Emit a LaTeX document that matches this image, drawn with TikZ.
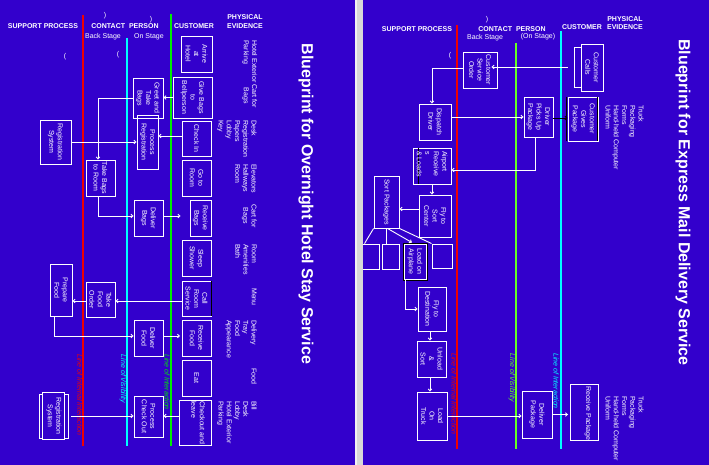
\documentclass[tikz,border=0pt]{standalone}
\usepackage{fontspec}
\setmainfont{Liberation Sans}
\usetikzlibrary{fit,arrows.meta}
\definecolor{bg}{HTML}{3300CC}
\definecolor{sep}{HTML}{D8D8D8}
\definecolor{lred}{HTML}{F00000}
\definecolor{lgreen}{HTML}{00EE00}
\definecolor{rgreen}{HTML}{66FF22}
\definecolor{lcyan}{HTML}{00FFFF}
\tikzset{
  box/.style={draw=white, line width=0.9pt, inner sep=0pt},
  txt/.style={rotate=-90, align=center, inner sep=0pt, text=white, font=\fontsize{7}{8.5}\selectfont},
  pe/.style={rotate=-90, anchor=north west, align=left, inner sep=0pt, text=white, font=\fontsize{7}{8.3}\selectfont},
  hd/.style={inner sep=0pt, text=white, font=\bfseries\fontsize{7}{8}\selectfont},
  sub/.style={inner sep=0pt, text=white, font=\fontsize{7}{8}\selectfont},
  lbl/.style={rotate=-90, inner sep=0pt, font=\itshape\fontsize{7}{8}\selectfont},
  ttl/.style={rotate=-90, inner sep=0pt, text=white, font=\bfseries\fontsize{16}{18}\selectfont},
  arr/.style={draw=white, line width=0.9pt, -{Straight Barb[length=2pt,width=3.5pt]}},
  ln/.style={draw=white, line width=0.9pt},
  lane/.style={line width=1.4pt},
}
\newcommand\bx[4]{\node[box, fit={#2 #3}] (#1) {};\node[txt] (#1t) at (#1.center) {#4};}
\begin{document}
\begin{tikzpicture}[x=1pt,y=-1pt]
\useasboundingbox (0,0) rectangle (709,465);
\fill[bg] (0,0) rectangle (709,465);

% ================= LEFT PANEL =================
\node[hd] (lh1) at (43,26) {SUPPORT PROCESS};
\node[hd] (lh2) at (125,26) {CONTACT~~PERSON};
\node[hd] (lh3) at (194,26) {CUSTOMER};
\node[hd, align=center, font=\bfseries\fontsize{7}{8.5}\selectfont] (lh4) at (245,21.5) {PHYSICAL\\EVIDENCE};
\node[sub] (lh5) at (103,37) {Back Stage};
\node[sub] (lh6) at (149,37) {On Stage};
\node[sub] (lp1) at (105,16) {)};
\node[sub] (lp2) at (151,20) {)};
\node[sub] (lp3) at (65,57) {(};
\node[sub] (lp4) at (118,55) {(};

\draw[lane, lred] (83,15) -- (83,446);
\draw[lane, lcyan] (127,38) -- (127,446);
\draw[lane, lgreen] (171,14) -- (171,446);
\node[lbl, text=lred] (ll1) at (80,395) {Line of Internal Interaction};
\node[lbl, text=lcyan] (ll2) at (123,379) {Line of Visibility};
\node[lbl, text=lgreen] (ll3) at (167,382) {Line of Interaction};

\node[ttl] (ltitle) at (306,204) {Blueprint for Overnight Hotel Stay Service};

% customer
\bx{arrive}{(181,36)}{(212,72)}{Arrive\\at\\Hotel}
\bx{give}{(173,77)}{(212,118)}{Give Bags\\to\\Bellperson}
\bx{checkin}{(182,121)}{(211,156)}{Check In}
\bx{goroom}{(182,160)}{(211,196)}{Go to\\Room}
\bx{recbags}{(190,200)}{(211,236)}{Receive\\Bags}
\bx{sleep}{(182,240)}{(211,276)}{Sleep\\Shower}
\bx{callrs}{(182,281)}{(211,316)}{Call\\Room\\Service}
\draw[black, line width=0.9pt] (callrs.north east) -- (callrs.south east);
\bx{recfood}{(182,320)}{(211,356)}{Receive\\Food}
\bx{eat}{(182,360)}{(211,396)}{Eat}
\node[box, fit={(179,400) (211,445)}] (leave) {};
\node[txt, align=left, anchor=west] (leavet) at (198,401) {Checkout and\\leave};

% contact / support
\bx{greet}{(133,78)}{(163,118)}{Greet and\\Take\\Bags}
\bx{procreg}{(137,115)}{(158,169)}{Process\\Registration}
\bx{regsys}{(40,120)}{(71,164)}{Registration\\System}
\bx{takeroom}{(86,160)}{(115,196)}{Take Bags\\to Room}
\bx{delbags}{(134,200)}{(163,236)}{Deliver\\Bags}
\bx{prepfood}{(50,264)}{(72,316)}{Prepare\\Food}
\bx{takefood}{(86,282)}{(115,317)}{Take\\Food\\Order}
\bx{delfood}{(134,320)}{(163,356)}{Deliver\\Food}
\node[box, fit={(39,394) (68,438)}] (regsysb) {};
\node[box, fill=bg, fit={(42,392) (64,439)}] (regsys2) {};
\node[txt] (regsys2t) at (54,416) {Registration\\System};
\bx{chkout}{(134,396)}{(163,437)}{Process\\Check Out}

% physical evidence
\node[pe] (pe1) at (257.5,40) {Hotel Exterior\\Parking};
\node[pe, align=center] (pe2) at (257.5,84) {Cart for\\Bags};
\node[pe] (pe3) at (257,120) {Desk\\Registration\\Papers\\Lobby\\Key};
\node[pe] (pe4) at (257,164) {Elevators\\Hallways\\Room};
\node[pe, align=center] (pe5) at (257,204) {Cart for\\Bags};
\node[pe] (pe6) at (257,244) {Room\\Amenities\\Bath};
\node[pe] (pe7) at (257,288) {Menu};
\node[pe] (pe8) at (257,320) {Delivery\\Tray\\Food\\Appearance};
\node[pe] (pe9) at (257,368) {Food};
\node[pe] (pe10) at (257,401) {Bill\\Desk\\Lobby\\Hotel Exterior\\Parking};

% connectors left
\draw[arr] (give.west) -- (give.west -| greet.east);
\draw[arr] (greet.west) -| ([xshift=-2.5pt]takeroom.north);
\draw[arr] ([yshift=2.5pt]checkin.west) -- ([yshift=2.5pt]checkin.west -| procreg.east);
\draw[arr] (regsys.east) -- (regsys.east -| procreg.west);
\draw[arr] ([xshift=-2.5pt]takeroom.south) |- ([yshift=2pt]delbags.west);
\draw[arr] ([yshift=2pt]delbags.east) -- ([yshift=2pt,xshift=-9pt]recbags.west);
\draw[arr] ([yshift=-2.5pt]callrs.west) -- ([yshift=-2.5pt]callrs.west -| takefood.east);
\draw[arr] ([yshift=-1.5pt]takefood.west) -- ([yshift=-1.5pt]takefood.west -| prepfood.east);
\draw[arr] ([xshift=-7pt]prepfood.south) |- ([yshift=2pt]delfood.west);
\draw[arr] ([yshift=2pt]delfood.east) -- ([yshift=2pt,xshift=-1.5pt]recfood.west);
\draw[arr] ([xshift=3pt]regsysb.east) -- (regsysb.east -| chkout.west);
\draw[arr] ([yshift=6.5pt]leave.west) -- ([yshift=6.5pt]leave.west -| chkout.east);

% ================= RIGHT PANEL =================
\node[hd] (rh1) at (417,29) {SUPPORT PROCESS};
\node[hd] (rh2) at (512,29) {CONTACT~~PERSON};
\node[hd] (rh3) at (582,27) {CUSTOMER};
\node[hd, align=center, font=\bfseries\fontsize{7}{8.5}\selectfont] (rh4) at (625,23) {PHYSICAL\\EVIDENCE};
\node[sub] (rh5) at (485,38) {Back Stage};
\node[sub] (rh6) at (538,37) {(On Stage)};
\node[sub] (rp1) at (487,20) {)};
\node[sub] (rp2) at (450,56) {(};

\draw[lane, lred] (457,25) -- (457,449);
\draw[lane, rgreen] (516,43) -- (516,449);
\draw[lane, lcyan] (561,31) -- (561,449);
\node[lbl, text=lred] (rl1) at (454,394) {Line of Internal Interaction};
\node[lbl, text=rgreen] (rl2) at (512,378) {Line of Visibility};
\node[lbl, text=lcyan] (rl3) at (556,381) {Line of Interaction};

\node[ttl] (rtitle) at (683,202.5) {Blueprint for Express Mail Delivery Service};

\node[box, fit={(574,47) (600,87)}] (callsb) {};
\node[box, fill=bg, fit={(581,44) (603,91)}] (calls) {};
\node[txt] (callst) at (calls.center) {Customer\\Calls};
\bx{cso}{(463,52)}{(497,88)}{Customer\\Service\\Order}
\bx{dispatch}{(419,104)}{(451,140)}{Dispatch\\Driver}
\bx{driver}{(524,97)}{(553,137)}{Driver\\Picks Up\\Package}
\bx{cgives}{(568,97)}{(598,141)}{Customer\\Gives\\Package}
\draw[black, line width=0.9pt] ([xshift=-1pt]cgives.north west) -- ([xshift=-1pt]cgives.south west);
\draw[black, line width=0.9pt] ([xshift=-1pt]cgives.north east) -- ([xshift=-1pt]cgives.south east);
\node[box, fit={(413,148) (451,184)}] (airport) {};
\draw[black, line width=0.9pt] ([xshift=6pt]airport.north west) -- ([xshift=6pt]airport.south west);
\node[txt, align=left, anchor=west] (airportt) at (432,151) {Airport\\Receive\\s\\\& Loads};
\bx{flysort}{(419,195)}{(451,237)}{Fly to\\Sort\\Center}
\bx{sortpk}{(374,176)}{(399,228)}{Sort Packages}
\bx{e1}{(358,244)}{(379,269)}{}
\bx{e2}{(382,244)}{(399,269)}{}
\draw[black, line width=0.9pt] (403,243) rectangle (427,280);
\bx{loadair}{(404,244)}{(426,279)}{Load on\\Airplane}
\bx{e4}{(432,244)}{(452,268)}{}
\bx{flydest}{(418,287)}{(446,331)}{Fly to\\Destination}
\bx{unload}{(417,341)}{(446,377)}{Unload\\\&\\Sort}
\bx{truck}{(417,392)}{(447,440)}{Load\\On\\Truck}
\bx{deliv}{(522,391)}{(552,438)}{Deliver\\Package}
\node[box, fit={(570,384) (598,440)}] (recpkg) {};
\node[txt, anchor=west] (recpkgt) at (588,386) {Receive Package};

\node[pe] (rpe1) at (644,105) {Truck\\Packaging\\Forms\\Hand-held Computer\\Uniform};
\node[pe] (rpe2) at (644,396) {Truck\\Packaging\\Forms\\Hand-held Computer\\Uniform};

% connectors right
\draw[arr] ([xshift=-6pt]callsb.west) -- ([xshift=-6pt]callsb.west -| cso.east);
\draw[arr] ([yshift=2pt]cso.west) -| ([xshift=-3pt]dispatch.north);
\draw[arr] (dispatch.east |- driver.west) -- (driver.west);
\draw[black, line width=0.9pt, -{Straight Barb[length=2pt,width=3.5pt]}] ([yshift=-1pt]driver.east) -- ([yshift=-1pt]driver.east -| cgives.west);
\draw[arr] ([xshift=-3.5pt]driver.south) |- ([yshift=-4pt]airport.east);
\draw[arr] (airport.south) -- (airport.south |- flysort.north);
\draw[arr] ([yshift=7pt]flysort.west) -- ([yshift=7pt]flysort.west -| sortpk.east);
\draw[ln] (sortpk.south west) -- ([xshift=7pt]e1.north west);
\draw[ln] (sortpk.south) -- (sortpk.south |- e2.north);
\draw[arr] ([xshift=1pt]sortpk.south) -- ([xshift=-3pt,yshift=1pt]loadair.north);
\draw[ln] (sortpk.south east) -- (e4.north west);
\draw[arr] ([xshift=-10pt]loadair.south) |- (flydest.west);
\draw[arr] ([xshift=-2pt]flydest.south) -- ([xshift=-2pt]flydest.south |- unload.north);
\draw[arr] ([xshift=-1.5pt]unload.south) -- ([xshift=-1.5pt]unload.south |- truck.north);
\draw[arr] (truck.east) -- (truck.east -| deliv.west);
\draw[arr] (deliv.east) -- ([xshift=-1.5pt]deliv.east -| recpkg.west);

% separator between panels
\fill[sep] (355,0) rectangle (363,465);
\fill[white!90!gray] (355,0) rectangle (357,465);
\end{tikzpicture}
\end{document}
